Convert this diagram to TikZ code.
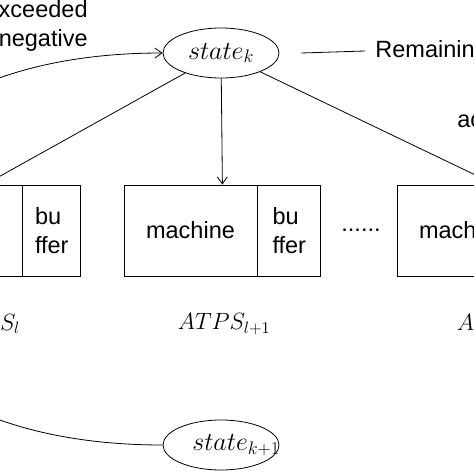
\RequirePackage{fix-cm}
\documentclass[tikz,border=0pt]{standalone}
\usepackage{fontspec}
\setmainfont{Liberation Sans}
\usetikzlibrary{shapes.geometric,positioning,calc,arrows.meta}

\tikzset{
 state/.style={draw,ellipse,minimum width=116pt,minimum height=50pt,inner sep=0pt,
   font=\fontsize{26}{30}\selectfont},
 machbox/.style={draw,minimum width=133pt,minimum height=91pt,inner sep=0pt},
 bufbox/.style={draw,minimum width=63pt,minimum height=91pt,inner sep=0pt,align=left},
 lbl/.style={inner sep=0pt},
 >={Straight Barb[length=7pt,width=10pt]}
}

\begin{document}
\begin{tikzpicture}[x=1pt,y=-1pt,line width=0.8pt,font=\fontsize{23.5}{29}\selectfont]
 \useasboundingbox (0,0) rectangle (474,474);
 \clip (0,0) rectangle (474,474);
 % states
 \node[state] (sk) at (221,53) {$state_k$};
 \node[state] (sk1) at (221,445) {\makebox[0pt]{\hspace*{30pt}$state_{k+1}$}};
 % ATPS blocks
 \node[machbox] (m1) at (-44.5,230.5) {};
 \node[bufbox,minimum width=58pt,right=0pt of m1] (b1) {bu\\ffer};
 \node[machbox] (m2) at (190.5,230.5) {machine};
 \node[bufbox,right=0pt of m2] (b2) {bu\\ffer};
 \node (dots) at (361,230) {......};
 \node[machbox] (m3) at (463.5,230.5) {machine};
 \node[bufbox,right=0pt of m3] (b3) {bu\\ffer};
 \coordinate (t1) at ($(m1.north west)!0.5!(b1.north east)$);
 \coordinate (t2) at ($(m2.north west)!0.5!(b2.north east)$);
 \coordinate (t3) at ($(m3.north west)!0.5!(b3.north east)$);
 \node at (-16,324) {$ATPS_l$};
 \node at (224,324) {$ATPS_{l+1}$};
 \node at (495,324) {$ATPS_n$};
 % connectors
 \draw[->] (sk) -- (t1);
 \draw[->] (sk) -- (t2);
 \draw[->] (sk) -- (t3);
 \draw[->] (sk1.west) .. controls (-254,445) and (-254,53) .. (sk.west);
 % labels
 \node[lbl,anchor=north east,align=right] (neg) at (88,0) {exceeded\\negative};
 \node[lbl,anchor=west] (remain) at (375,51) {Remaining};
 \draw ([xshift=22pt]sk.east) -- ([xshift=-10pt]remain.west);
 \node[lbl,anchor=base west] (act) at (457,127) {action};
\end{tikzpicture}
\end{document}
